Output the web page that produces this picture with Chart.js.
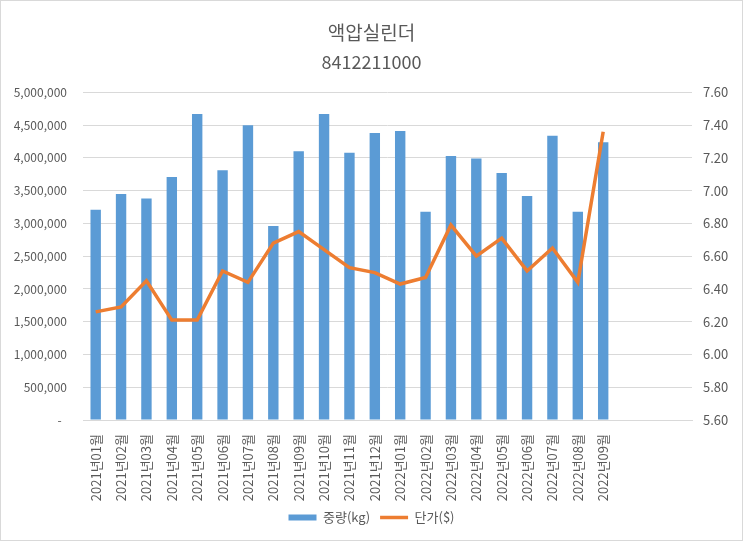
<!DOCTYPE html>
<html>
<head>
<meta charset="utf-8">
<script src="https://cdn.jsdelivr.net/npm/chart.js@4"></script>
<style>
    body { margin: 0; background: #fff; }
    #wrap { width: 741px; height: 539px; border: 1px solid #D9D9D9; }
</style>
</head>
<body>
<div id="wrap"><canvas id="chart" width="741" height="539"></canvas></div>
<script>
// 데이터
const months = [
    '2021년01월', '2021년02월', '2021년03월', '2021년04월', '2021년05월', '2021년06월',
    '2021년07월', '2021년08월', '2021년09월', '2021년10월', '2021년11월', '2021년12월',
    '2022년01월', '2022년02월', '2022년03월', '2022년04월', '2022년05월', '2022년06월',
    '2022년07월', '2022년08월', '2022년09월', '', '', ''
];
const weightKg = [
    3210000, 3450000, 3380000, 3710000, 4670000, 3810000,
    4500000, 2960000, 4100000, 4670000, 4080000, 4380000,
    4410000, 3180000, 4030000, 3990000, 3770000, 3420000,
    4340000, 3180000, 4240000
];
const unitPrice = [
    6.26, 6.29, 6.45, 6.21, 6.21, 6.51,
    6.44, 6.68, 6.75, 6.64, 6.53, 6.50,
    6.43, 6.47, 6.79, 6.60, 6.71, 6.51,
    6.65, 6.44, 7.36
];

const FONT = '"Noto Sans CJK KR", "Noto Sans", sans-serif';
const GREY = '#595959';
const GRID = '#D9D9D9';

const ctx = document.getElementById('chart').getContext('2d');
new Chart(ctx, {
    type: 'bar',
    data: {
        labels: months,
        datasets: [
            {
                type: 'bar',
                label: '중량(kg)',
                data: weightKg,
                backgroundColor: '#5B9BD5',
                borderWidth: 0,
                yAxisID: 'y',
                order: 1,
                pointStyle: 'rect',
                categoryPercentage: 1,
                barPercentage: 0.41
            },
            {
                type: 'line',
                label: '단가($)',
                data: unitPrice,
                borderColor: '#ED7D31',
                backgroundColor: '#ED7D31',
                borderWidth: 3.5,
                pointRadius: 0,
                tension: 0,
                yAxisID: 'y1',
                order: 0,
                pointStyle: 'line'
            }
        ]
    },
    options: {
        responsive: false,
        animation: false,
        layout: { padding: { left: 0, right: 0, top: 0, bottom: 6 } },
        plugins: {
            title: {
                display: true,
                text: '액압실린더',
                color: GREY,
                font: { family: FONT, size: 19, weight: 'normal' },
                padding: { top: 20, bottom: 8 }
            },
            subtitle: {
                display: true,
                text: '8412211000',
                color: GREY,
                font: { family: FONT, size: 18, weight: 'normal' },
                padding: { top: 0, bottom: 19 }
            },
            legend: {
                position: 'bottom',
                labels: {
                    usePointStyle: true,
                    pointStyleWidth: 28,
                    boxHeight: 6,
                    color: GREY,
                    font: { family: FONT, size: 13 },
                    padding: 10,
                    sort: (a, b) => a.datasetIndex - b.datasetIndex
                }
            },
            tooltip: { enabled: false }
        },
        scales: {
            x: {
                grid: { display: false },
                border: { color: GRID },
                ticks: {
                    color: GREY,
                    font: { family: FONT, size: 13 },
                    minRotation: 90,
                    maxRotation: 90,
                    autoSkip: false,
                    padding: 6
                },
                afterFit: s => { s.height = 81; }
            },
            y: {
                position: 'left',
                min: 0,
                max: 5000000,
                grid: { color: GRID, drawTicks: false },
                border: { display: false },
                ticks: {
                    stepSize: 500000,
                    color: GREY,
                    font: { family: FONT, size: 12 },
                    padding: 16,
                    callback: v => v === 0 ? '-  ' : v.toLocaleString('en-US')
                },
                afterFit: s => { s.width = 82; }
            },
            y1: {
                position: 'right',
                min: 5.6,
                max: 7.6,
                grid: { drawOnChartArea: false, drawTicks: false },
                border: { display: false },
                ticks: {
                    stepSize: 0.2,
                    color: GREY,
                    font: { family: FONT, size: 13 },
                    padding: 11,
                    callback: v => v.toFixed(2)
                },
                afterFit: s => { s.width = 50; }
            }
        }
    }
});
</script>
</body>
</html>
